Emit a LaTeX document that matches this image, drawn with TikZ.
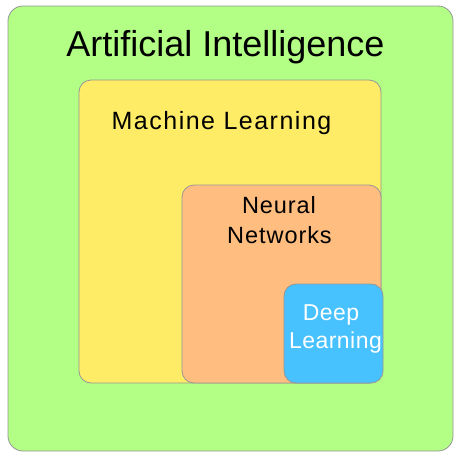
\documentclass[tikz,border=0pt]{standalone}
\usepackage{fontspec}
\setmainfont{Liberation Sans}
\newfontfamily\mlfont[LetterSpace=6]{Liberation Sans}
\newfontfamily\nnfont[LetterSpace=4]{Liberation Sans}
\newfontfamily\dlfont[LetterSpace=2]{Liberation Sans}
\definecolor{aigreen}{RGB}{179,255,133}
\definecolor{mlyellow}{RGB}{255,236,102}
\definecolor{nnorange}{RGB}{255,189,128}
\definecolor{dlblue}{RGB}{71,194,255}
\definecolor{edgegray}{RGB}{150,150,150}
\tikzset{
  setbox/.style={draw=edgegray, line width=0.8pt, rounded corners=12pt},
  lbl/.style={inner sep=0pt, anchor=base}
}
\begin{document}
\begin{tikzpicture}[x=1pt,y=-1pt]
\useasboundingbox (0,0) rectangle (462,458);
\fill[white] (0,0) rectangle (462,458);
\draw[setbox, fill=aigreen, rounded corners=15pt] (8,6) rectangle (453,451);
\draw[setbox, fill=mlyellow] (79,80) rectangle (381,383);
\draw[setbox, fill=nnorange] (182,185) rectangle (381,383);
\draw[setbox, fill=dlblue] (284,284) rectangle (383,383);
\node[lbl, font=\fontsize{36}{40}\selectfont] (ai) at (225.5,56) {Artificial Intelligence};
\node[lbl, font=\mlfont\fontsize{25}{28}\selectfont] (ml) at (221.5,129) {Machine Learning};
\node[lbl, font=\nnfont\fontsize{23.5}{28}\selectfont] (nn1) at (279,213.5) {Neural};
\node[lbl, font=\nnfont\fontsize{23.5}{28}\selectfont] (nn2) at (279.5,243.5) {Networks};
\node[lbl, font=\dlfont\fontsize{23}{28}\selectfont, text=white] (dl1) at (331,320) {Deep};
\node[lbl, font=\dlfont\fontsize{23}{28}\selectfont, text=white] (dl2) at (335.5,348.5) {Learning};
\end{tikzpicture}
\end{document}
